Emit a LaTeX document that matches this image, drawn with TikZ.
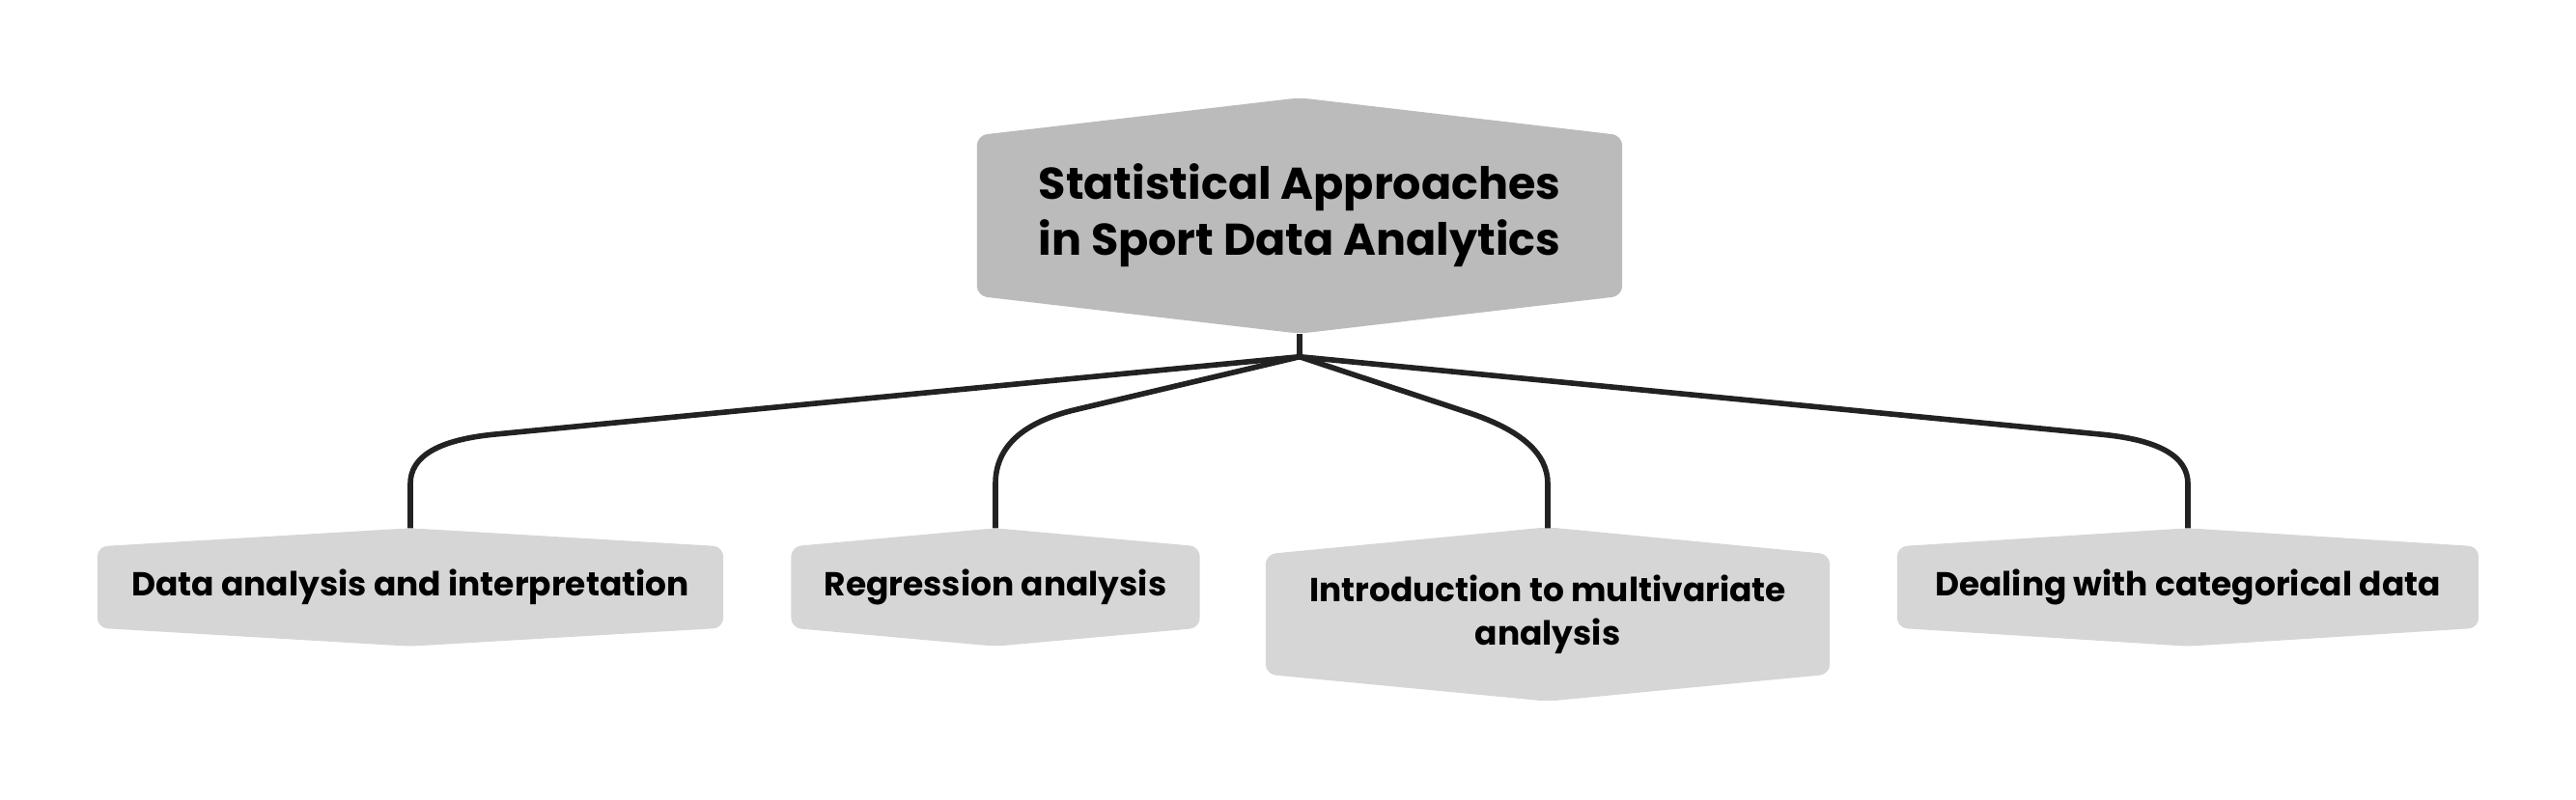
\documentclass[tikz,border=0pt]{standalone}
\usepackage{fontspec}
\setmainfont{Poppins}
\usetikzlibrary{calc,backgrounds}

\definecolor{rootgray}{HTML}{BBBBBB}
\definecolor{leafgray}{HTML}{D6D6D6}
\definecolor{linkgray}{HTML}{222222}

\tikzset{
    rootnode/.style={font=\fontsize{13.1}{16.6}\selectfont\bfseries, align=center,
        minimum width=6.67cm, minimum height=1.65cm, inner sep=0pt},
    leafnode/.style={font=\fontsize{9.8}{12.9}\selectfont\bfseries, align=center,
        minimum height=0.83cm, inner sep=0pt},
    link/.style={draw=linkgray, line width=1.6pt},
}

% forma a esagono schiacciato: nome, punta, colore
\newcommand{\hexfill}[3]{%
    \fill[#3, rounded corners=3pt] (#1.north west) -- ($(#1.north)+(0,#2)$) -- (#1.north east)
        -- (#1.south east) -- ($(#1.south)+(0,-#2)$) -- (#1.south west) -- cycle;}

\begin{document}
\begin{tikzpicture}
    \useasboundingbox (0,0) rectangle (26.68,8.28);

    % radice
    \node[rootnode] (root) at (13.46,6.045) {Statistical Approaches\\in Sport Data Analytics};
    \coordinate (roottip) at ($(root.south)+(0,-0.39)$);
    \coordinate (jn) at ($(root.south)+(0,-0.63)$);

    % foglie
    \node[leafnode, minimum width=6.47cm] (c1) at (4.25,2.195) {Data analysis and interpretation};
    \node[leafnode, minimum width=4.22cm] (c2) at (10.31,2.195) {Regression analysis};
    \node[leafnode, minimum width=5.83cm, minimum height=1.23cm] (c3) at (16.03,1.915) {Introduction to multivariate\\analysis};
    \node[leafnode, minimum width=6.01cm] (c4) at (22.66,2.195) {Dealing with categorical data};
    \coordinate (c1tip) at ($(c1.north)+(0,0.19)$);
    \coordinate (c2tip) at ($(c2.north)+(0,0.19)$);
    \coordinate (c3tip) at ($(c3.north)+(0,0.27)$);
    \coordinate (c4tip) at ($(c4.north)+(0,0.19)$);

    % sfondi
    \begin{scope}[on background layer]
        \hexfill{root}{0.39}{rootgray}
        \hexfill{c1}{0.19}{leafgray}
        \hexfill{c2}{0.19}{leafgray}
        \hexfill{c3}{0.28}{leafgray}
        \hexfill{c4}{0.19}{leafgray}
    \end{scope}

    % collegamenti
    \draw[link] (roottip) -- (jn);
    \draw[link] (jn) -- ([shift={(0.85,0.97)}]c1tip)
        .. controls ([shift={(0.28,0.91)}]c1tip) and ([shift={(0,0.74)}]c1tip) .. ([shift={(0,0.46)}]c1tip) -- (c1tip);
    \draw[link] (jn) -- ([shift={(0.84,1.23)}]c2tip)
        .. controls ([shift={(0.28,1.10)}]c2tip) and ([shift={(0,0.84)}]c2tip) .. ([shift={(0,0.46)}]c2tip) -- (c2tip);
    \draw[link] (jn) -- ([shift={(-0.80,1.19)}]c3tip)
        .. controls ([shift={(-0.27,1.01)}]c3tip) and ([shift={(0,0.77)}]c3tip) .. ([shift={(0,0.46)}]c3tip) -- (c3tip);
    \draw[link] (jn) -- ([shift={(-0.88,0.97)}]c4tip)
        .. controls ([shift={(-0.29,0.91)}]c4tip) and ([shift={(0,0.74)}]c4tip) .. ([shift={(0,0.46)}]c4tip) -- (c4tip);
\end{tikzpicture}
\end{document}
